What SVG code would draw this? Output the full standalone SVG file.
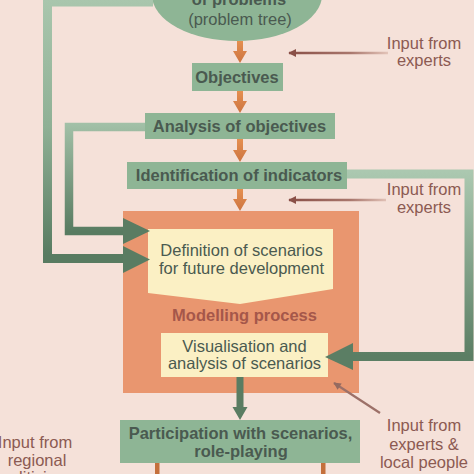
<svg xmlns="http://www.w3.org/2000/svg" width="474" height="474" viewBox="0 0 474 474">
<defs>
<style>
.t{font-family:"Liberation Sans",Arial,sans-serif;font-size:16.5px;text-anchor:middle}
.b{font-weight:bold}
.g{fill:#4a5a50}
.in{fill:#8c5a52}
.box{fill:#8eb595}
.dk{fill:#5a7c62}
</style>
<linearGradient id="gOut" gradientUnits="userSpaceOnUse" x1="0" y1="0" x2="0" y2="255">
<stop offset="0" stop-color="#a9c6ad"/><stop offset="0.5" stop-color="#8fb095"/><stop offset="1" stop-color="#587b61"/>
</linearGradient>
<linearGradient id="gIn" gradientUnits="userSpaceOnUse" x1="0" y1="122" x2="0" y2="232">
<stop offset="0" stop-color="#a3c1a8"/><stop offset="1" stop-color="#587b61"/>
</linearGradient>
<linearGradient id="gR" gradientUnits="userSpaceOnUse" x1="0" y1="172" x2="0" y2="356">
<stop offset="0" stop-color="#abc8b0"/><stop offset="1" stop-color="#5b7e64"/>
</linearGradient>
<linearGradient id="gTh" gradientUnits="userSpaceOnUse" x1="290" y1="0" x2="390" y2="0">
<stop offset="0" stop-color="#8a5048"/><stop offset="0.6" stop-color="#a8766c"/><stop offset="1" stop-color="#e6c8bd"/>
</linearGradient>
<linearGradient id="gOr" x1="0" y1="0" x2="0" y2="1">
<stop offset="0" stop-color="#e58f50"/><stop offset="1" stop-color="#cc7440"/>
</linearGradient>
<marker id="ah" viewBox="0 0 10 10" refX="9" refY="5" markerWidth="3.4" markerHeight="3" orient="auto" markerUnits="strokeWidth">
<path d="M0,0 L10,5 L0,10 z" fill="#8a5048"/>
</marker>
<marker id="ah2" viewBox="0 0 10 10" refX="9" refY="5" markerWidth="4" markerHeight="3.4" orient="auto" markerUnits="strokeWidth">
<path d="M0,0 L10,5 L0,10 z" fill="#946a60"/>
</marker>
</defs>
<rect x="0" y="0" width="474" height="474" fill="#f5e1d9"/>

<g id="problems">
<ellipse cx="237" cy="-5" rx="85" ry="46" class="box"/>
<text x="239" y="5" class="t b g">of problems</text>
<text x="240" y="25" class="t g">(problem tree)</text>
</g>

<g id="objectives">
<rect x="192" y="63" width="91" height="28" class="box"/>
<text x="237" y="82.5" class="t b g">Objectives</text>
</g>

<g id="analysis">
<rect x="145" y="113" width="190" height="26" class="box"/>
<text x="239.5" y="132" class="t b g">Analysis of objectives</text>
</g>

<g id="indicators">
<rect x="127" y="162" width="220" height="27" class="box"/>
<text x="239" y="181" class="t b g">Identification of indicators</text>
</g>

<g id="modelling">
<rect x="123" y="211" width="236" height="182" fill="#e9966f"/>
<text x="244.5" y="321" class="t b" fill="#a5574a">Modelling process</text>
</g>

<g id="definition">
<path d="M148,229 H333 V289 L240,304 L148,293 z" fill="#fbf0c4"/>
<text x="241.5" y="256" class="t g">Definition of scenarios</text>
<text x="241.5" y="273.5" class="t g">for future development</text>
</g>

<g id="visualisation">
<rect x="161" y="333" width="167" height="44" fill="#fbf0c4"/>
<text x="244.5" y="351.5" class="t g">Visualisation and</text>
<text x="244.5" y="369" class="t g">analysis of scenarios</text>
</g>

<g id="participation">
<rect x="120" y="420" width="240" height="43" class="box"/>
<text x="240.5" y="439" class="t b g">Participation with scenarios,</text>
<text x="241" y="457" class="t b g">role-playing</text>
</g>

<g id="input1">
<text x="424" y="48.5" class="t in">Input from</text>
<text x="424" y="66" class="t in">experts</text>
</g>
<g id="input2">
<text x="424" y="195" class="t in">Input from</text>
<text x="424" y="212.5" class="t in">experts</text>
</g>
<g id="input3">
<text x="424" y="431" class="t in">Input from</text>
<text x="424" y="449.5" class="t in">experts &amp;</text>
<text x="424" y="468" class="t in">local people</text>
</g>
<g id="input4">
<text x="35" y="448" class="t in">Input from</text>
<text x="37" y="465.5" class="t in">regional</text>
<text x="37" y="483" class="t in">politicians</text>
</g>

<g id="connectors">
<path d="M153,2 H47.5 V258.5 H126" fill="none" stroke="url(#gOut)" stroke-width="9"/>
<path d="M123,246 L150,259.5 L123,273 z" class="dk"/>
<path d="M145,127 H69 V231 H126" fill="none" stroke="url(#gIn)" stroke-width="8.5"/>
<path d="M123,218 L150,231 L123,244 z" class="dk"/>
<path d="M347,174 H469 V356.5 H350" fill="none" stroke="url(#gR)" stroke-width="9"/>
<path d="M353,343 L325,357 L353,370 z" fill="#5b7e64"/>
<g fill="url(#gOr)">
<path d="M237,41 H243 V51 H247 L240,63 L233,51 H237 z"/>
<path d="M237,91 H243 V101 H247 L240,113 L233,101 H237 z"/>
<path d="M237,139 H243 V150 H247 L240,162 L233,150 H237 z"/>
<path d="M237,189 H243 V199 H247 L240,211 L233,199 H237 z"/>
</g>
<path d="M236.5,377 H243.5 V407 H247.5 L240,420 L232.5,407 H236.5 z" class="dk"/>
<line x1="388" y1="53" x2="289" y2="53" stroke="url(#gTh)" stroke-width="2.6" marker-end="url(#ah)"/>
<line x1="386" y1="200" x2="289" y2="200" stroke="url(#gTh)" stroke-width="2.6" marker-end="url(#ah)"/>
<line x1="380" y1="413" x2="334" y2="383" stroke="#9c7068" stroke-width="2.2" marker-end="url(#ah2)"/>
<rect x="155" y="463" width="4.5" height="11" fill="#c4703c"/>
<rect x="321" y="463" width="4.5" height="11" fill="#c4703c"/>
</g>
</svg>
